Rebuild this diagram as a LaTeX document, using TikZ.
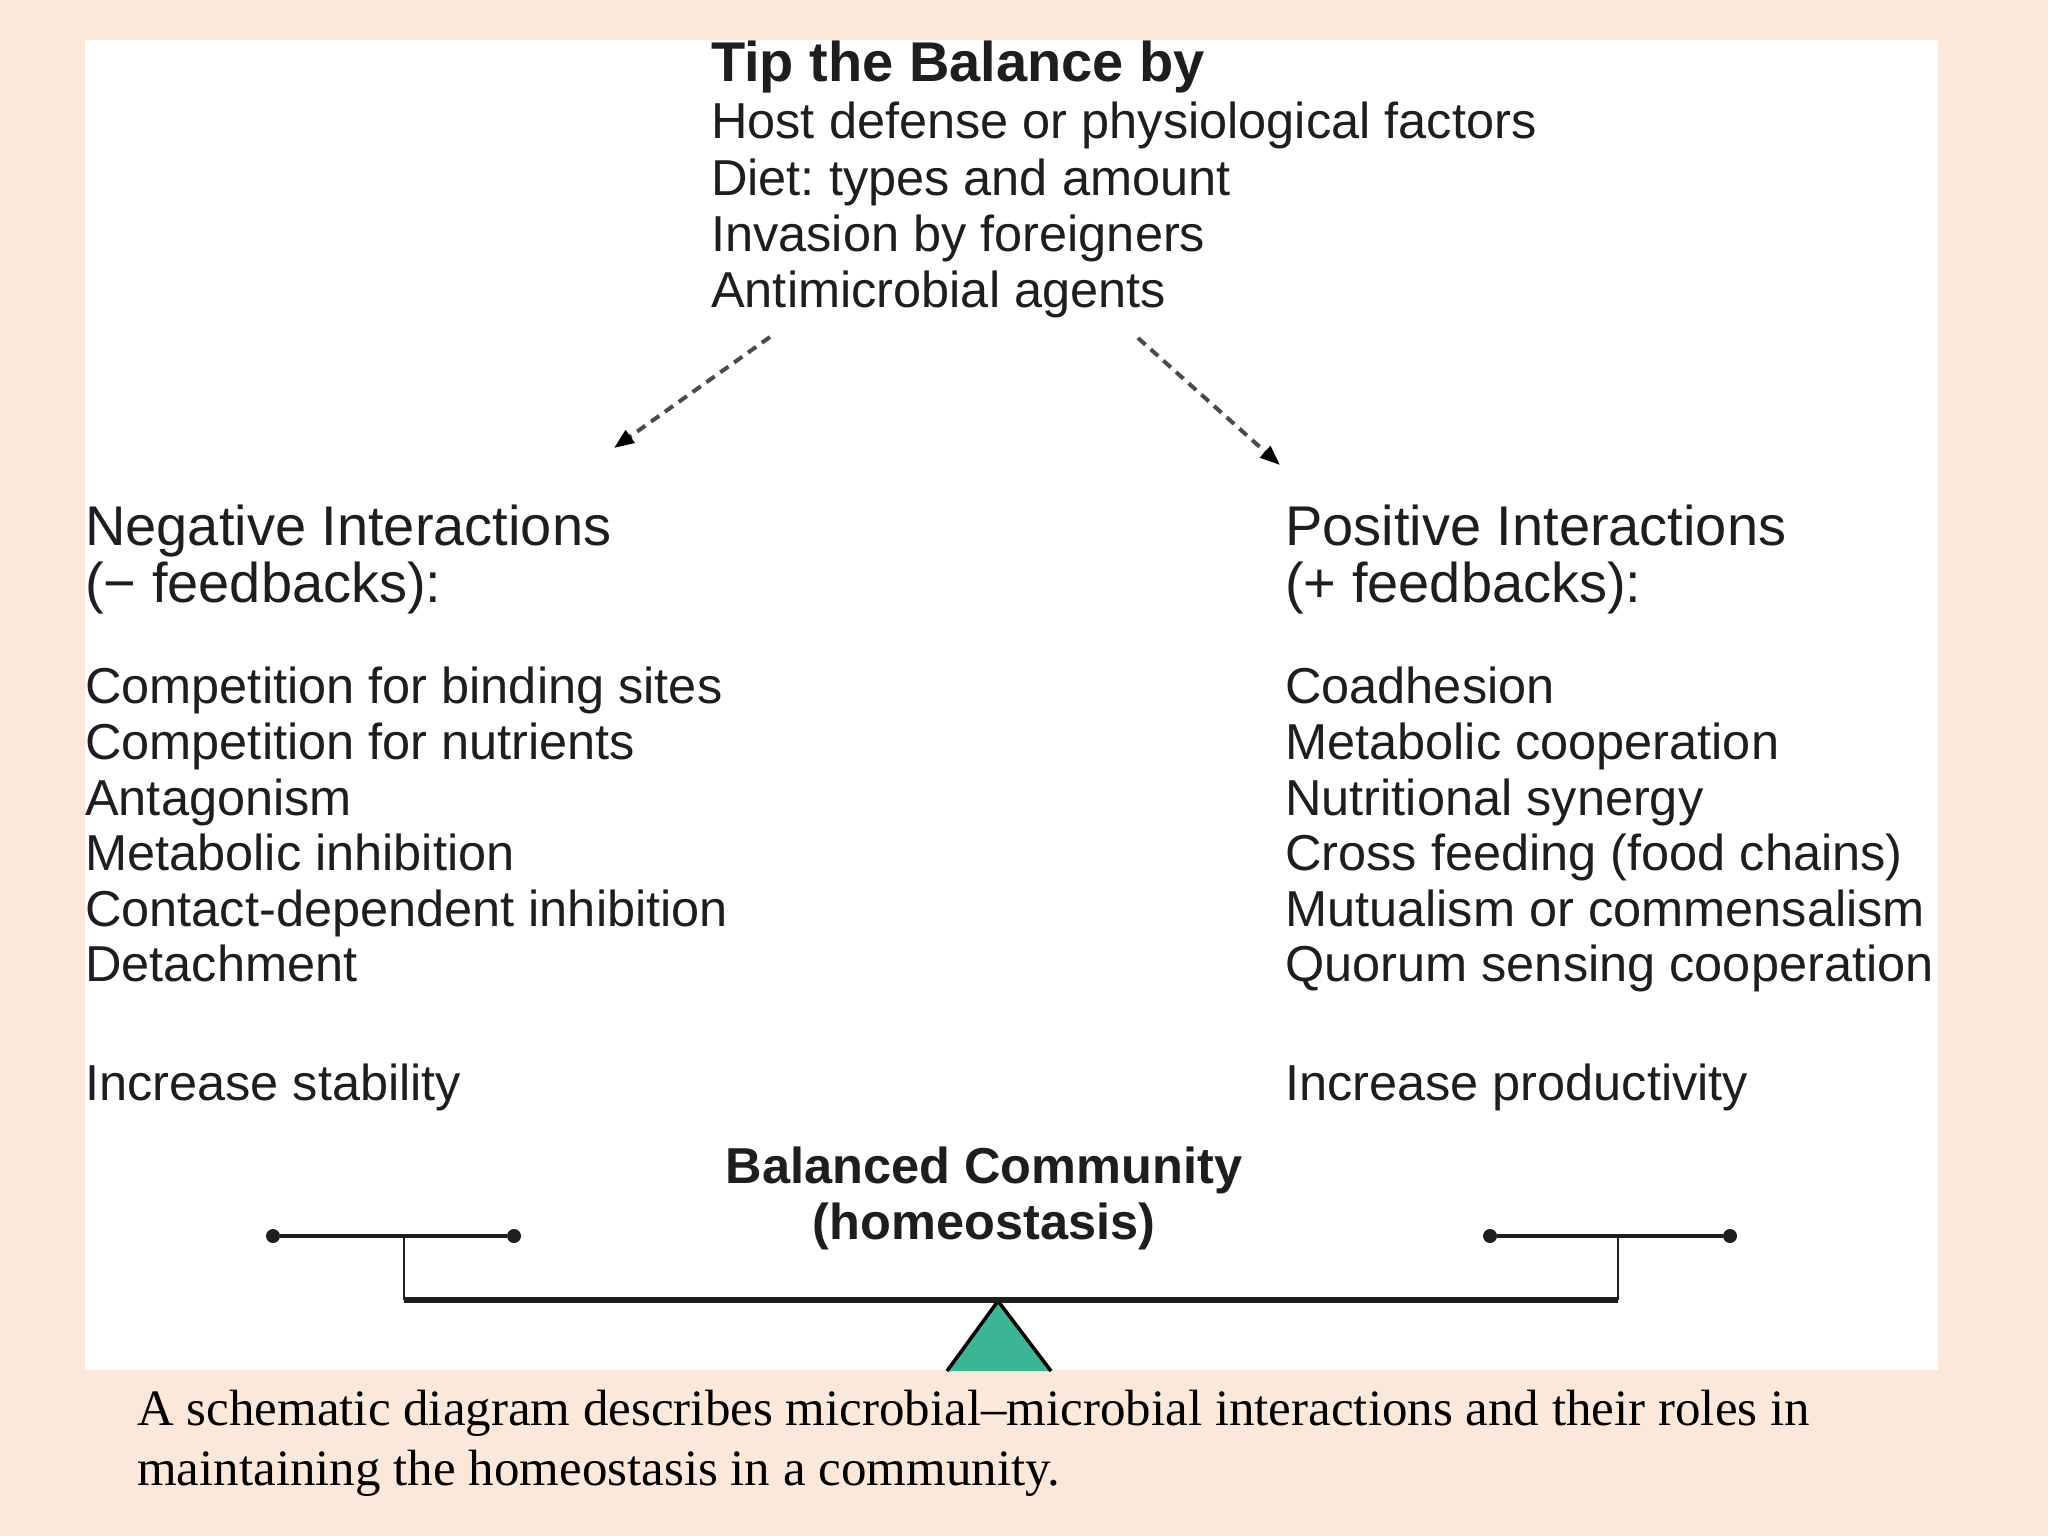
\documentclass[tikz,border=0pt]{standalone}
\usepackage{fontspec}
\setmainfont{Liberation Sans}
\newfontfamily\capfont{Liberation Serif}
\usetikzlibrary{arrows.meta}
\frenchspacing
\definecolor{bgpink}{HTML}{FBE8DB}
\definecolor{ink}{HTML}{1E1E1E}
\definecolor{fulcrum}{HTML}{3BB596}
\definecolor{dashgray}{HTML}{4A4A4A}
\tikzset{
  txt/.style={anchor=base west, inner sep=0pt, text=ink, font=\fontsize{50.5}{56}\selectfont},
  head/.style={anchor=base west, inner sep=0pt, text=ink, font=\fontsize{56}{62}\selectfont},
  boldtxt/.style={anchor=base, inner sep=0pt, text=ink, font=\fontsize{50.5}{56}\selectfont\bfseries},
  captxt/.style={anchor=base west, inner sep=0pt, text=black, font=\capfont\fontsize{51}{60}\selectfont},
  tiparrow/.style={dashgray, line width=4pt, dash pattern=on 10pt off 7pt, -{Triangle[length=20pt,width=15pt,color=black]}},
  pan/.style={ink, line width=4pt},
  stem/.style={ink, line width=2.5pt},
  beam/.style={ink, line width=5.5pt},
  dot/.style={circle, fill=ink, inner sep=0pt, minimum size=14pt},
}
\begin{document}
\begin{tikzpicture}[x=1pt,y=-1pt]
\useasboundingbox (0,0) rectangle (2048,1536);
\fill[bgpink] (0,0) rectangle (2048,1536);
\fill[white] (85,40) rectangle (1938,1370);

% top block
\node[head, font=\fontsize{56}{62}\selectfont\bfseries] (tip) at (711,82) {Tip the Balance by};
\node[txt] (t1) at (711,139) {Host defense or physiological factors};
\node[txt] (t2) at (711,195) {Diet: types and amount};
\node[txt] (t3) at (711,251) {Invasion by foreigners};
\node[txt] (t4) at (711,307) {Antimicrobial agents};

% dashed arrows
\coordinate (la) at (770,337);
\coordinate (lb) at (614,448);
\coordinate (ra) at (1138,338);
\coordinate (rb) at (1280,465);
\draw[tiparrow] (la) -- (lb);
\draw[tiparrow] (ra) -- (rb);

% left column
\node[head] (nh1) at (85,545) {Negative Interactions};
\node[head] (nh2) at (85,602) {(− feedbacks):};
\node[txt] (n1) at (85,703) {Competition for binding sites};
\node[txt] (n2) at (85,759) {Competition for nutrients};
\node[txt] (n3) at (85,815) {Antagonism};
\node[txt] (n4) at (85,870) {Metabolic inhibition};
\node[txt] (n5) at (85,926) {Contact-dependent inhibition};
\node[txt] (n6) at (85,981) {Detachment};
\node[txt] (ns) at (85,1100) {Increase stability};

% right column
\node[head] (ph1) at (1285,545) {Positive Interactions};
\node[head] (ph2) at (1285,602) {(+ feedbacks):};
\node[txt] (p1) at (1285,703) {Coadhesion};
\node[txt] (p2) at (1285,759) {Metabolic cooperation};
\node[txt] (p3) at (1285,815) {Nutritional synergy};
\node[txt] (p4) at (1285,870) {Cross feeding (food chains)};
\node[txt] (p5) at (1285,926) {Mutualism or commensalism};
\node[txt] (p6) at (1285,981) {Quorum sensing cooperation};
\node[txt] (ps) at (1285,1100) {Increase productivity};

% balance label
\node[boldtxt] (bc1) at (984,1183) {Balanced Community};
\node[boldtxt] (bc2) at (984,1239) {(homeostasis)};

% balance
\coordinate (apex) at (998,1301);
\fill[fulcrum] (946,1371) -- (apex) -- (1052,1371) -- cycle;
\draw[black, line width=3.5pt, line join=miter] (947,1371) -- (apex) -- (1051,1371);

\node[dot] (ld1) at (273,1236) {};
\node[dot] (ld2) at (514,1236) {};
\node[dot] (rd1) at (1490,1236) {};
\node[dot] (rd2) at (1730,1236) {};
\coordinate (ls) at (404,1236);
\coordinate (rs) at (1618,1236);
\coordinate (lb0) at (404,1300);
\coordinate (rb0) at (1618,1300);
\draw[pan] (ld1) -- (ld2);
\draw[pan] (rd1) -- (rd2);
\draw[stem] (ls) -- (lb0);
\draw[stem] (rs) -- (rb0);
\draw[beam] (lb0) -- (rb0);

% caption
\node[captxt] (c1) at (137,1425) {A schematic diagram describes microbial–microbial interactions and their roles in};
\node[captxt] (c2) at (137,1485) {maintaining the homeostasis in a community.};
\end{tikzpicture}
\end{document}
